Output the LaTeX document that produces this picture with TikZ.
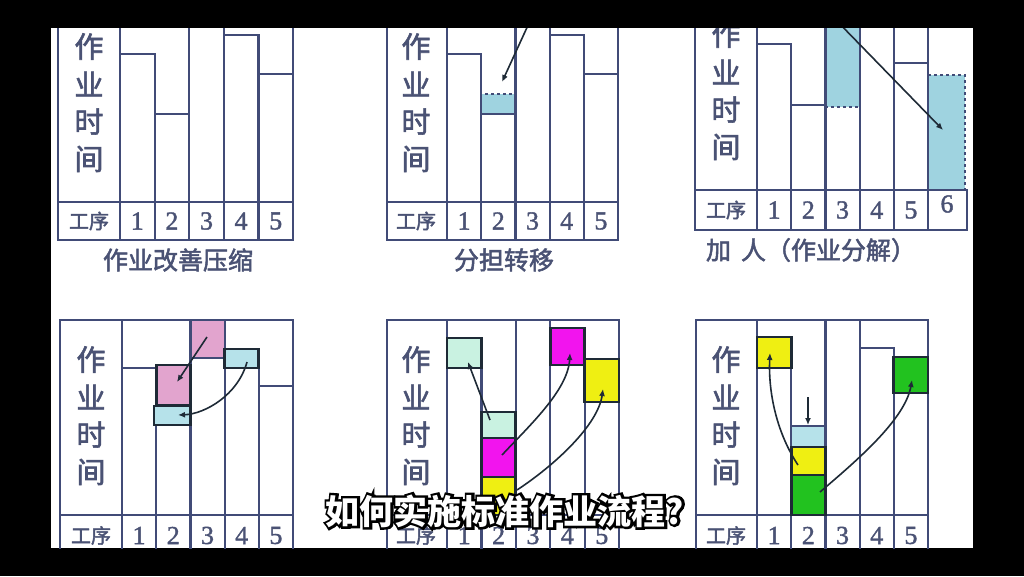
\documentclass[tikz,border=0pt]{standalone}
\usepackage{fontspec}
\setmainfont{Liberation Serif}
\newfontfamily\cjk{Noto Sans CJK SC}
\newfontfamily\cjklabel{Noto Sans CJK SC}[FakeBold=2]
\newfontfamily\cjkhalo{Noto Sans CJK SC}[BoldFeatures={FakeBold=14}]
\newfontfamily\numfont{Liberation Serif}[FakeBold=1.5]
\usetikzlibrary{arrows.meta}

\definecolor{gridblue}{HTML}{414B77}
\definecolor{labeltext}{HTML}{4A5274}
\definecolor{boxline}{HTML}{1E2A36}
\definecolor{skyblue}{HTML}{9FD3E0}
\definecolor{paleblue}{HTML}{B6E2EA}
\definecolor{mauve}{HTML}{E2A4CE}
\definecolor{mint}{HTML}{C9F2E1}
\definecolor{magentabox}{HTML}{F214EE}
\definecolor{yellowbox}{HTML}{EFEF12}
\definecolor{greenbox}{HTML}{22C21F}

% name, left, label line, right, frame top, row top, row bottom
\newcommand{\chartbase}[7]{%
  \pgfmathsetmacro{\colw}{(#4-#3)/5}
  \foreach \k in {0,...,5}
    \coordinate (#1-\k) at ({#3+\k*\colw},#6);
  \draw[gridline] (#2,#5) rectangle (#4,#7);
  \draw[gridline] (#3,#5) -- (#3,#7);
  \draw[gridline] (#2,#6) -- (#4,#6);
  \foreach \k in {1,...,4}
    \draw[gridline] (#1-\k) -- (#1-\k |- 0,#7);
  \foreach \ch [count=\i] in {作,业,时,间}
    \node[vlabel] at ({#3-31},{#6-43-37.5*(4-\i)}) {\ch};
  \node[rowlabel] at ({#3-31},{(#6+#7)/2}) {工序};
  \foreach \k in {1,...,5}
    \node[colnum] at ({#3+(\k-0.5)*\colw},{(#6+#7)/2}) {\k};
}

\begin{document}
\begin{tikzpicture}[x=1pt,y=-1pt]
  \tikzstyle{gridline}=[draw=gridblue,line width=2.2pt]
  \tikzstyle{movebox}=[draw=boxline,line width=2.8pt]
  \tikzstyle{pointer}=[draw=boxline,line width=1.6pt,-{Latex[length=7pt,width=6pt]}]
  \tikzstyle{vlabel}=[text=labeltext,inner sep=0pt,font=\cjklabel\fontsize{29}{29}\selectfont]
  \tikzstyle{rowlabel}=[text=labeltext,inner sep=0pt,font=\cjklabel\fontsize{20}{20}\selectfont]
  \tikzstyle{colnum}=[text=labeltext,inner sep=0pt,font=\numfont\fontsize{26}{26}\selectfont]
  \tikzstyle{caption}=[text=labeltext,inner sep=0pt,font=\cjklabel\fontsize{25}{25}\selectfont]
  \tikzstyle{subtitle}=[inner sep=0pt,font=\cjk\bfseries\fontsize{34}{34}\selectfont]

  \useasboundingbox (0,0) rectangle (1024,576);
  \fill[black] (0,0) rectangle (1024,576);
  \fill[white] (51,28) rectangle (973,548);

  \begin{scope}
  \clip (51,28) rectangle (973,548);

  % top left: compressing the work
  \chartbase{pa}{58}{120}{293}{10}{202}{240}
  \foreach \a/\b/\t in {0/1/54,1/2/114,2/3/10,3/4/35,4/5/74}
    \draw[gridline] (pa-\a |- 0,\t) rectangle (pa-\b);
  \node[caption] at (178,260) {作业改善压缩};

  % top middle: moving a share
  \chartbase{pb}{387}{447}{618}{10}{202}{240}
  \fill[skyblue] (pb-1 |- 0,94) rectangle (pb-2 |- 0,114);
  \draw[gridline,dashed,line width=1.6pt] (pb-1 |- 0,114) -- (pb-1 |- 0,94) -- (pb-2 |- 0,94) -- (pb-2 |- 0,114);
  \foreach \a/\b/\t in {0/1/54,1/2/114,2/3/10,3/4/35,4/5/74}
    \draw[gridline] (pb-\a |- 0,\t) rectangle (pb-\b);
  \draw[pointer] (535,10) -- (502,82);
  \node[caption] at (504,260) {分担转移};

  % top right: one more worker
  \chartbase{pc}{695}{757}{928}{10}{190}{230}
  \fill[skyblue] (pc-2 |- 0,10) rectangle (pc-3 |- 0,107);
  \fill[skyblue] (pc-5 |- 0,75) rectangle (965,190);
  \foreach \a/\b/\t in {0/1/44,1/2/105,3/4/10,4/5/63}
    \draw[gridline] (pc-\a |- 0,\t) rectangle (pc-\b);
  \draw[gridline] (pc-2 |- 0,10) -- (pc-2);
  \draw[gridline,dashed,line width=1.6pt] (pc-2 |- 0,107) -- (pc-3 |- 0,107);
  \draw[gridline,dashed,line width=1.6pt] (pc-5 |- 0,75) -- (965,75) -- (965,190);
  \draw[gridline] (pc-5) -- (967,190) -- (967,230) -- (pc-5 |- 0,230);
  \node[colnum] at (947,204) {6};
  \draw[pointer] (833,17) -- (943,130);
  \node[caption] at (811,250) {加\hspace{0.4em}人（作业分解）};

  % bottom left
  \chartbase{pd}{60}{122}{293}{320}{515}{556}
  \foreach \a/\b/\t in {0/1/368,1/2/425,2/3/358,3/4/368,4/5/386}
    \draw[gridline] (pd-\a |- 0,\t) rectangle (pd-\b);
  \path[fill=mauve,gridline] (pd-2 |- 0,320) rectangle (pd-3 |- 0,358);
  \path[fill=mauve,movebox] (pd-1 |- 0,365) rectangle (pd-2 |- 0,405);
  \path[fill=paleblue,movebox] (154,406) rectangle (pd-2 |- 0,425);
  \path[fill=paleblue,movebox] (pd-3 |- 0,349) rectangle (pd-4 |- 0,368);
  \draw[pointer] (207,337) -- (177,382);
  \draw[pointer] (247,362) .. controls (238,395) and (205,414) .. (178,415);

  % bottom middle
  \chartbase{pe}{387}{447}{619}{320}{515}{556}
  \draw[gridline] (pe-1 |- 0,338) -- (pe-1);
  \draw[gridline] (pe-2 |- 0,320) -- (pe-2);
  \draw[gridline] (pe-3 |- 0,320) -- (pe-3);
  \draw[gridline] (pe-4 |- 0,328) -- (pe-4);
  \path[fill=mint,movebox] (pe-0 |- 0,338) rectangle (pe-1 |- 0,368);
  \path[fill=mint,movebox] (pe-1 |- 0,412) rectangle (pe-2 |- 0,438);
  \path[fill=magentabox,movebox] (pe-1 |- 0,438) rectangle (pe-2 |- 0,477);
  \path[fill=yellowbox,movebox] (pe-1 |- 0,477) rectangle (pe-2);
  \path[fill=magentabox,movebox] (pe-3 |- 0,328) rectangle (pe-4 |- 0,365);
  \path[fill=yellowbox,movebox] (pe-4 |- 0,359) rectangle (pe-5 |- 0,402);
  \draw[pointer] (490,420) -- (468,362);
  \draw[pointer] (502,455) .. controls (530,425) and (568,390) .. (570,353);
  \draw[pointer] (517,490) .. controls (555,465) and (598,425) .. (603,389);

  % bottom right
  \chartbase{pf}{696}{757}{928}{320}{515}{556}
  \draw[gridline] (pf-1 |- 0,337) -- (pf-1);
  \draw[gridline] (pf-2 |- 0,320) -- (pf-2);
  \draw[gridline] (pf-3 |- 0,320) -- (pf-3);
  \draw[gridline] (pf-3 |- 0,348) -- (pf-4 |- 0,348) -- (pf-4);
  \path[fill=yellowbox,movebox] (pf-0 |- 0,337) rectangle (pf-1 |- 0,368);
  \path[fill=paleblue,gridline] (pf-1 |- 0,426) rectangle (pf-2 |- 0,447);
  \path[fill=yellowbox,movebox] (pf-1 |- 0,447) rectangle (pf-2 |- 0,475);
  \path[fill=greenbox,movebox] (pf-1 |- 0,475) rectangle (pf-2);
  \path[fill=greenbox,movebox] (pf-4 |- 0,357) rectangle (pf-5 |- 0,393);
  \draw[pointer] (808,397) -- (808,425);
  \draw[pointer] (798,465) .. controls (778,435) and (768,395) .. (770,353);
  \draw[pointer] (820,492) .. controls (855,462) and (905,420) .. (912,380);
  \end{scope}

  % subtitle: a heavy black copy under the white text
  \node[subtitle,text=black,font=\cjkhalo\bfseries\fontsize{34}{34}\selectfont] (halo) at (505,511) {如何实施标准作业流程?};
  \node[subtitle,text=white] (caption) at (505,511) {如何实施标准作业流程?};
\end{tikzpicture}
\end{document}
